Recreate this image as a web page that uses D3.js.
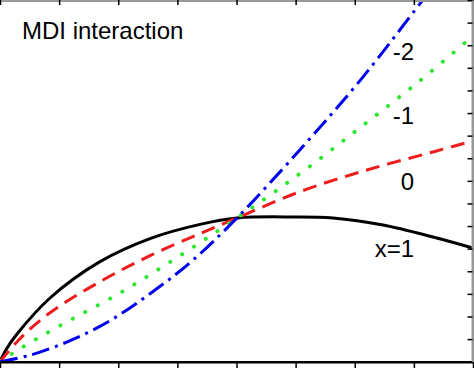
<!DOCTYPE html>
<html>
<head>
<meta charset="utf-8">
<script src="https://cdn.jsdelivr.net/npm/d3@7"></script>
<style>
  body { margin: 0; background: #fff; }
  svg { display: block; }
  text { font-family: "Liberation Sans", Arial, sans-serif; }
</style>
</head>
<body>
<div id="chart"></div>
<script>
// curves, in grid units (x: 0..8, y: 0..16)
var xBlack = [0, 0.101, 0.288, 0.846, 1.691, 2.537, 3.383, 4.008, 4.956, 5.632, 6.478, 7.323, 8.0];
var yBlack = [0, 0.531, 1.226, 2.818, 4.425, 5.447, 6.075, 6.358, 6.403, 6.358, 6.049, 5.518, 5.031];

var xRed = [0, 0.338, 0.846, 1.691, 2.537, 3.383, 4.008, 5.074, 6.207, 7.323, 8.0];
var yRed = [0, 1.018, 2.168, 3.54, 4.69, 5.664, 6.358, 7.522, 8.482, 9.279, 9.765];

var xGreen = [0, 0.338, 1.015, 2.03, 3.044, 4.008, 5.074, 6.089, 7.104, 8.0];
var yGreen = [0, 0.575, 1.593, 3.04, 4.69, 6.358, 8.319, 10.354, 12.434, 14.412];

var xBlue = [0, 0.507, 1.184, 1.86, 2.537, 3.214, 4.008, 5.074, 6.089, 7.104, 7.273];
var yBlue = [0, 0.288, 0.929, 1.814, 3.009, 4.381, 6.358, 9.381, 12.434, 15.841, 16.416];

var curveLabels = ["-2", "-1", "0", "x=1"];
var labelY = [13.35, 10.52, 7.6, 4.63];

var width = 474,
    height = 368,
    plotW = 473,
    plotH = 361.7;

var svg = d3.select("#chart").append("svg")
    .attr("width", width)
    .attr("height", height);

var x = d3.scaleLinear().domain([0, 8]).range([0, plotW]),
    y = d3.scaleLinear().domain([0, 16]).range([plotH, 0]);

svg.append("clipPath").attr("id", "clip")
  .append("rect").attr("x", 0).attr("y", 0).attr("width", plotW).attr("height", plotH);

function pts(xs, ys) {
  return xs.map(function (d, i) { return [d, ys[i]]; });
}

var line = d3.line()
    .x(function (d) { return x(d[0]); })
    .y(function (d) { return y(d[1]); })
    .curve(d3.curveCatmullRom.alpha(0.5));

var series = [
  { data: pts(xBlack, yBlack), color: "#000", dash: null, w: 3, cap: "butt" },
  { data: pts(xRed, yRed), color: "#ee1c1c", dash: "14,8", w: 3, cap: "butt" },
  { data: pts(xGreen, yGreen), color: "#2fe62f", dash: "0.1,14", w: 4, cap: "round" },
  { data: pts(xBlue, yBlue), color: "#0000f0", dash: "18,6,3,6", w: 3, cap: "butt" }
];

svg.append("g").attr("clip-path", "url(#clip)")
  .selectAll("path")
  .data(series)
  .enter().append("path")
    .attr("d", function (d) { return line(d.data); })
    .attr("fill", "none")
    .attr("stroke", function (d) { return d.color; })
    .attr("stroke-width", function (d) { return d.w; })
    .attr("stroke-linecap", function (d) { return d.cap; })
    .attr("stroke-dasharray", function (d) { return d.dash; });

// frame + ticks
var bottomAxis = svg.append("g")
    .attr("transform", "translate(0," + plotH + ")")
    .call(d3.axisBottom(x).ticks(8).tickSize(7).tickSizeOuter(0).tickFormat(""));
bottomAxis.select(".domain").attr("stroke-width", 2.5);
bottomAxis.selectAll(".tick line").attr("stroke-width", 1.5);

var topAxis = svg.append("g")
    .attr("transform", "translate(0,0)")
    .call(d3.axisBottom(x).ticks(8).tickSize(5).tickSizeOuter(0).tickFormat(""));
topAxis.select(".domain").attr("stroke", "#999").attr("stroke-width", 3);
topAxis.selectAll(".tick line").attr("stroke-width", 1.5);

var rightAxis = svg.append("g")
    .attr("transform", "translate(" + (plotW - 0.5) + ",0)")
    .call(d3.axisLeft(y).ticks(16).tickSize(5).tickSizeOuter(0).tickFormat(""));
rightAxis.select(".domain").attr("stroke", "#999").attr("stroke-width", 3);
rightAxis.selectAll(".tick line").attr("stroke-width", 1.5);

svg.append("text")
    .attr("x", 22).attr("y", 39)
    .attr("font-size", 24)
    .text("MDI interaction");

svg.selectAll(".clabel")
  .data(curveLabels)
  .enter().append("text")
    .attr("class", "clabel")
    .attr("x", 414)
    .attr("y", function (d, i) { return y(labelY[i]); })
    .attr("text-anchor", "end")
    .attr("font-size", 24)
    .text(function (d) { return d; });
</script>
</body>
</html>
